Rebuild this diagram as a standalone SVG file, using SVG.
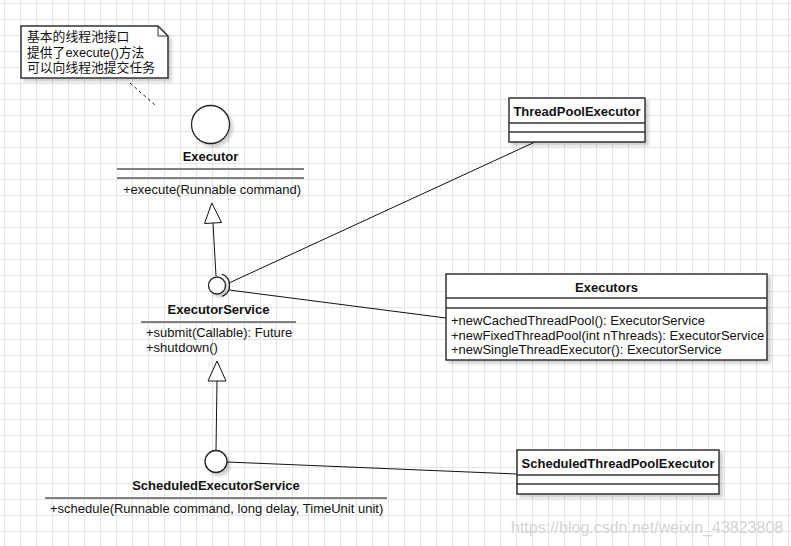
<svg xmlns="http://www.w3.org/2000/svg" width="791" height="546" viewBox="0 0 791 546">
<defs>
<pattern id="grid" x="4" y="3" width="16" height="16" patternUnits="userSpaceOnUse">
<path d="M0,0.5 H16 M0.5,0 V16" fill="none" stroke="#e4e4e4" stroke-width="1"/>
</pattern>
<filter id="sh" x="-10%" y="-10%" width="130%" height="140%">
<feDropShadow dx="3" dy="3" stdDeviation="1.5" flood-color="#000" flood-opacity="0.18"/>
</filter>
</defs>
<style>
.t{font-family:"Liberation Sans",Arial,"Noto Sans CJK SC",sans-serif;font-size:13px;fill:#111}
.b{font-weight:bold;text-anchor:middle}
.cjk{font-family:"Liberation Sans",Arial,"Noto Sans CJK SC",sans-serif;font-size:12.8px;fill:#111}
.box{fill:#fff;stroke:#333;stroke-width:1.5}
.sep{stroke:#333;stroke-width:1.5;fill:none}
.gsep{stroke:#808080;stroke-width:2;fill:none}
.circ{fill:#fff;stroke:#222;stroke-width:1.3}
.arc{fill:none;stroke:#222;stroke-width:1.3}
.ln{stroke:#111;stroke-width:1;fill:none}
.tri{fill:#fff;stroke:#111;stroke-width:1}
</style>
<rect width="791" height="546" fill="#fff"/>
<rect width="791" height="546" fill="url(#grid)"/>

<g id="note">
<path d="M21,26 H158 L168,36 V78 H21 Z" fill="#fff" stroke="#333" stroke-width="1.5" filter="url(#sh)"/>
<path d="M158,26 V36 H168" fill="none" stroke="#333" stroke-width="1"/>
<text class="cjk" x="27" y="41">基本的线程池接口</text>
<text class="cjk" x="27" y="56.5">提供了execute()方法</text>
<text class="cjk" x="27" y="72">可以向线程池提交任务</text>
</g>

<g id="connectors">
<line class="ln" x1="130" y1="83" x2="155" y2="105" stroke-dasharray="3,3"/>
<line class="ln" x1="213" y1="223" x2="216" y2="276"/>
<polygon class="tri" points="211.8,203 221.5,222.5 204.5,223.5"/>
<line class="ln" x1="217" y1="381" x2="216" y2="450"/>
<polygon class="tri" points="217,361 226,381 208,381"/>
<line class="ln" x1="229" y1="283" x2="535" y2="142"/>
<line class="ln" x1="229" y1="290" x2="446" y2="318"/>
<line class="ln" x1="227" y1="462" x2="517" y2="474"/>
</g>

<g id="executor">
<circle class="circ" cx="210.5" cy="124.5" r="19" filter="url(#sh)"/>
<text class="t b" x="210.5" y="161">Executor</text>
<line class="gsep" x1="117" y1="169" x2="304" y2="169"/>
<line class="gsep" x1="117" y1="178" x2="304" y2="178"/>
<text class="t" x="123" y="194">+execute(Runnable command)</text>
</g>

<g id="executorService">
<circle class="circ" cx="217" cy="285.5" r="8.5" filter="url(#sh)"/>
<path class="arc" d="M221.7,274 A12,12 0 0 1 222.1,296.4"/>
<text class="t b" x="218.5" y="314">ExecutorService</text>
<line class="gsep" x1="141" y1="322" x2="296" y2="322"/>
<text class="t" x="146" y="337">+submit(Callable): Future</text>
<text class="t" x="146" y="352">+shutdown()</text>
</g>

<g id="scheduledExecutorService">
<circle class="circ" cx="216" cy="461.5" r="11" filter="url(#sh)"/>
<text class="t b" x="216" y="490">ScheduledExecutorService</text>
<line class="gsep" x1="45" y1="498" x2="387" y2="498"/>
<text class="t" x="50" y="512.5">+schedule(Runnable command, long delay, TimeUnit unit)</text>
</g>

<g id="threadPoolExecutor">
<rect class="box" x="509" y="98" width="136" height="44" filter="url(#sh)"/>
<line class="sep" x1="509" y1="123" x2="645" y2="123"/>
<line class="sep" x1="509" y1="132" x2="645" y2="132"/>
<text class="t b" x="577" y="116">ThreadPoolExecutor</text>
</g>

<g id="executors">
<rect class="box" x="446" y="274" width="321" height="86" filter="url(#sh)"/>
<line class="sep" x1="446" y1="298" x2="767" y2="298"/>
<line class="sep" x1="446" y1="308" x2="767" y2="308"/>
<text class="t b" x="606.5" y="291.5">Executors</text>
<text class="t" x="451" y="325">+newCachedThreadPool(): ExecutorService</text>
<text class="t" x="451" y="339.5">+newFixedThreadPool(int nThreads): ExecutorService</text>
<text class="t" x="451" y="354">+newSingleThreadExecutor(): ExecutorService</text>
</g>

<g id="scheduledThreadPoolExecutor">
<rect class="box" x="517" y="450" width="202" height="44" filter="url(#sh)"/>
<line class="sep" x1="517" y1="475" x2="719" y2="475"/>
<line class="sep" x1="517" y1="484" x2="719" y2="484"/>
<text class="t b" x="618" y="467.5">ScheduledThreadPoolExecutor</text>
</g>

<g id="watermark">
<text x="511" y="533" font-family="Liberation Sans, Arial, sans-serif" font-size="16" fill="#d4d4d4">https://blog.csdn.net/weixin_43823808</text>
</g>
</svg>
